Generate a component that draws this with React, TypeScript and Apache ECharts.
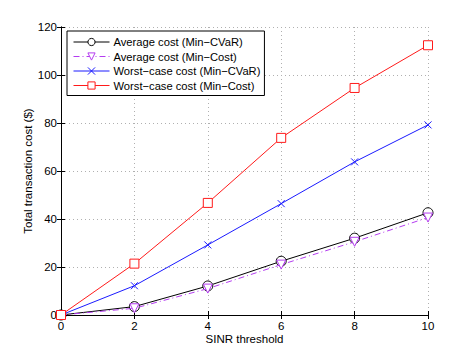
import React, { useEffect, useRef } from "react";
import * as echarts from "echarts";

const sinr = [0, 2, 4, 6, 8, 10];
const avgMinCVaR = [0, 3.5, 12.1, 22.4, 32.0, 42.6];
const avgMinCost = [0, 2.8, 11.0, 21.0, 30.5, 40.6];
const worstMinCVaR = [0, 12.2, 29.2, 46.4, 63.8, 79.2];
const worstMinCost = [0, 21.4, 46.7, 73.8, 94.6, 112.4];
const seriesNames = [
  "Average cost (Min\u2212CVaR)",
  "Average cost (Min\u2212Cost)",
  "Worst\u2212case cost (Min\u2212CVaR)",
  "Worst\u2212case cost (Min\u2212Cost)",
];
const xTicks = [0, 2, 4, 6, 8, 10];
const yTicks = [0, 20, 40, 60, 80, 100, 120];

const FONT = "'Liberation Sans', Arial, Helvetica, sans-serif";
const CROSS = "path://M0,0L10,10M10,0L0,10";

export default function App() {
  const ref = useRef<HTMLDivElement>(null);
  useEffect(() => {
    const chart = echarts.init(ref.current!, undefined, { renderer: "svg" });
    const pair = (ys: number[]) => sinr.map((x, i) => [x, ys[i]]);
    const axisCommon = {
      type: "value" as const,
      axisLine: { show: true, lineStyle: { color: "#000", width: 1 } },
      axisTick: { show: true, inside: true, length: 4, lineStyle: { color: "#000" } },
      axisLabel: { color: "#000", fontSize: 11.5, fontFamily: FONT },
    };
    chart.setOption({
      animation: false,
      backgroundColor: "#fff",
      textStyle: { fontFamily: FONT },
      grid: { left: 61, right: 46, top: 27, bottom: 40, containLabel: false },
      legend: {
        orient: "vertical",
        left: 67,
        top: 31,
        padding: [4, 4, 3, 6],
        itemWidth: 36,
        itemHeight: 9,
        itemGap: 0.5,
        backgroundColor: "#fff",
        borderColor: "#000",
        borderWidth: 1,
        borderRadius: 0,
        lineStyle: { width: 1 },
        itemStyle: { borderWidth: 1 },
        textStyle: {
          fontSize: 11.2,
          lineHeight: 14,
          color: "#000",
          fontFamily: FONT,
          padding: [0, 0, 0, -1],
        },
        data: seriesNames,
      },
      xAxis: [
        {
          ...axisCommon,
          min: 0,
          max: 10,
          interval: 2,
          name: "SINR threshold",
          nameLocation: "middle",
          nameGap: 18,
          nameMoveOverlap: false,
          nameTextStyle: { color: "#000", fontSize: 11.5, fontFamily: FONT },
          axisLabel: { ...axisCommon.axisLabel, margin: 5, formatter: (v: number) => (xTicks.includes(v) ? String(v) : "") },
          splitLine: { show: true, lineStyle: { color: "#b0b0b0", type: [1, 3], width: 1 } },
        },
        {
          ...axisCommon,
          position: "top",
          min: 0,
          max: 10,
          interval: 2,
          axisLabel: { show: false },
          splitLine: { show: false },
        },
      ],
      yAxis: [
        {
          ...axisCommon,
          min: 0,
          max: 120,
          interval: 20,
          name: "Total transaction cost ($)",
          nameLocation: "middle",
          nameGap: 27,
          nameMoveOverlap: false,
          nameTextStyle: { color: "#000", fontSize: 11.5, fontFamily: FONT },
          axisLabel: { ...axisCommon.axisLabel, margin: 4, formatter: (v: number) => (yTicks.includes(v) ? String(v) : "") },
          splitLine: { show: true, lineStyle: { color: "#b0b0b0", type: [1, 3], width: 1 } },
        },
        {
          ...axisCommon,
          position: "right",
          min: 0,
          max: 120,
          interval: 20,
          axisLabel: { show: false },
          splitLine: { show: false },
        },
      ],
      series: [
        {
          name: seriesNames[0],
          type: "line",
          data: pair(avgMinCVaR),
          symbol: "circle",
          symbolSize: 10,
          itemStyle: { color: "#fff", borderColor: "#000", borderWidth: 1 },
          lineStyle: { color: "#000", width: 1 },
          z: 2,
        },
        {
          name: seriesNames[1],
          type: "line",
          data: pair(avgMinCost),
          symbol: "triangle",
          symbolRotate: 180,
          symbolSize: 9,
          itemStyle: { color: "#fff", borderColor: "#b43cf0", borderWidth: 1 },
          lineStyle: { color: "#b43cf0", width: 1, type: [6, 3, 1, 3] },
          z: 3,
        },
        {
          name: seriesNames[2],
          type: "line",
          data: pair(worstMinCVaR),
          symbol: CROSS,
          symbolSize: 7,
          itemStyle: { color: "none", borderColor: "#1a1aff", borderWidth: 1 },
          lineStyle: { color: "#1a1aff", width: 1 },
          z: 4,
        },
        {
          name: seriesNames[3],
          type: "line",
          data: pair(worstMinCost),
          symbol: "rect",
          symbolSize: 9,
          itemStyle: { color: "#fff", borderColor: "#ff1a1a", borderWidth: 1 },
          lineStyle: { color: "#ff1a1a", width: 1 },
          z: 5,
        },
      ],
    });
    return () => chart.dispose();
  }, []);
  return (
    <div
      ref={ref}
      style={{ position: "fixed", left: 0, top: 0, width: 474, height: 355, background: "#fff" }}
    />
  );
}
